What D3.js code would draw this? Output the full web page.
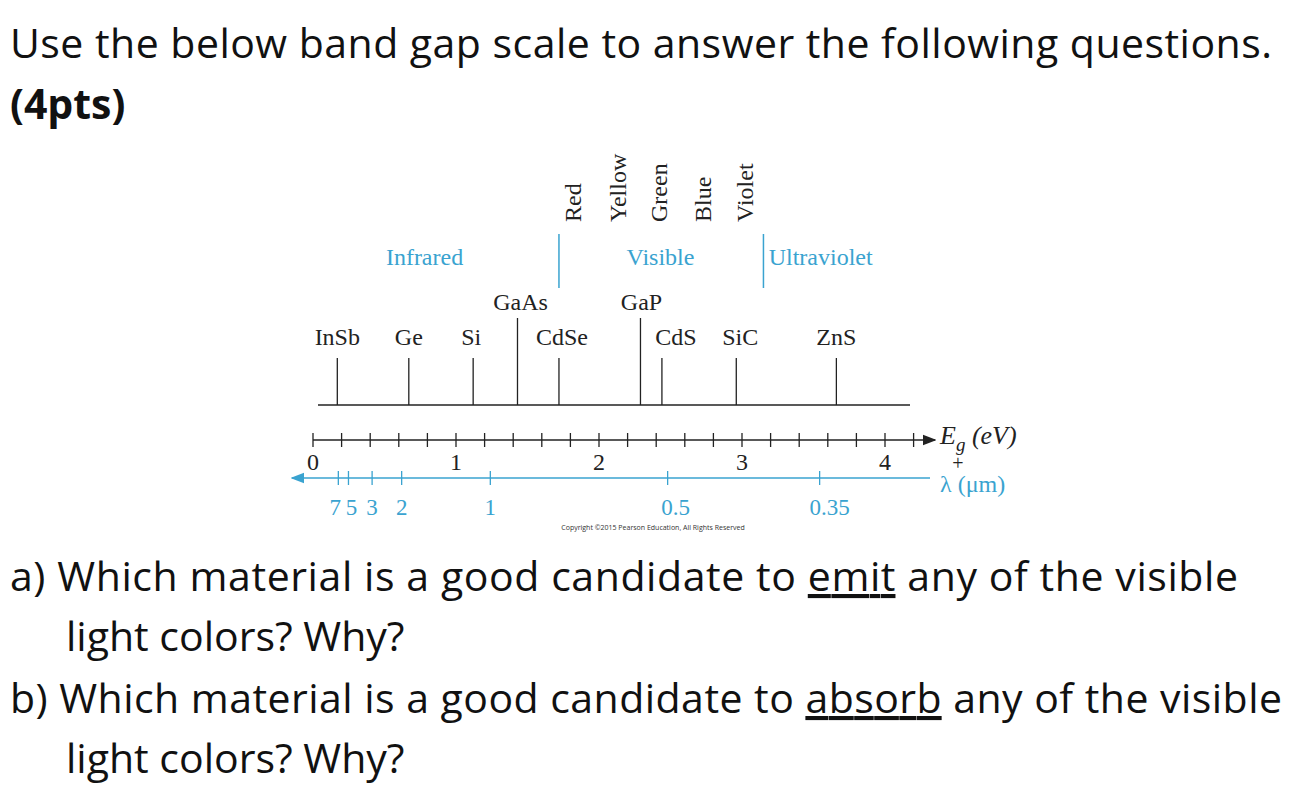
<!DOCTYPE html>
<html><head><meta charset="utf-8">
<script src="https://cdn.jsdelivr.net/npm/d3@7"></script>
<style>body{margin:0;background:#fff}</style>
</head><body><svg id="c" width="1306" height="806"></svg>
<script>
// ---- data ----
var materials = ["InSb","Ge","Si","GaAs","CdSe","GaP","CdS","SiC","ZnS"];
var gaps = [0.17,0.67,1.12,1.43,1.72,2.29,2.44,2.96,3.66];
var raised = ["GaAs","GaP"];
var colorNames = ["Red","Yellow","Green","Blue","Violet"];
var colorEv = [1.82,2.13,2.42,2.73,3.02];
var regionNames = ["Infrared","Visible","Ultraviolet"];
var regionEv = [0.78,2.43,3.55];
var visibleEdges = [1.72,3.15];
var eTicks = [0,1,2,3,4];
var lamTicks = [7,5,3,2,1,0.5,0.35];
var lamLabels = ["7","5","3","2","1","0.5","0.35"];

var svg = d3.select("#c");
var x = d3.scaleLinear().domain([0,4]).range([313,885]);
var blue = "#3aa3d0";
var serif = "Liberation Serif, serif";
var sans = "Open Sans, Lato, sans-serif";

// ---- text ----
function line(y, parts, bold, x0){
  var t = svg.append("text").attr("x",x0||10).attr("y",y).style("font-family",sans)
    .style("font-size","41px").style("font-weight",bold?"700":"400").attr("fill","#111");
  parts.forEach(p => {
    var s = t.append("tspan").text(p[0]);
    if(p[1]) s.style("text-decoration","underline");
  });
  return t;
}
line(58,[["Use the below band gap scale to answer the following questions."]]).attr("textLength",1262);
line(119,[["(4pts)"]],true);
line(591,[["a) Which material is a good candidate to "],["emit",1],[" any of the visible"]]).attr("textLength",1228);
line(651,[["light colors? Why?"]],false,66);
line(713,[["b) Which material is a good candidate to "],["absorb",1],[" any of the visible"]]).attr("textLength",1272);
line(773,[["light colors? Why?"]],false,66);

// ---- Eg axis ----
var ay = 440;
svg.append("defs").html(
  '<marker id="ab" viewBox="0 0 10 10" refX="9" refY="5" markerWidth="9" markerHeight="9" orient="auto"><path d="M0,1L10,5L0,9z" fill="#222"/></marker>'+
  '<marker id="al" viewBox="0 0 10 10" refX="9" refY="5" markerWidth="9" markerHeight="9" orient="auto"><path d="M0,1L10,5L0,9z" fill="'+blue+'"/></marker>');
svg.append("line").attr("x1",x(0)).attr("x2",x(4.35)).attr("y1",ay).attr("y2",ay)
  .attr("stroke","#222").attr("stroke-width",1.5).attr("marker-end","url(#ab)");
svg.selectAll(".et").data(d3.range(0,4.21,0.2)).enter().append("line")
  .attr("x1",d=>x(d)).attr("x2",d=>x(d)).attr("y1",ay-7).attr("y2",ay+7)
  .attr("stroke","#222").attr("stroke-width",1.3);
svg.selectAll(".el").data(eTicks).enter().append("text")
  .attr("x",d=>x(d)).attr("y",ay+30).attr("text-anchor","middle")
  .style("font-family",serif).style("font-size","24px").attr("fill","#222").text(d=>d);
var eg = svg.append("text").attr("x",940).attr("y",444).style("font-family",serif)
  .style("font-size","26px").style("font-style","italic").attr("fill","#222");
eg.append("tspan").text("E");
eg.append("tspan").attr("dy",7).style("font-size","19px").text("g");
eg.append("tspan").attr("dy",-7).text(" (eV)");
svg.append("text").attr("x",958).attr("y",470).attr("text-anchor","middle")
  .style("font-family",serif).style("font-size","20px").attr("fill","#222").text("+");

// ---- wavelength axis ----
var ly = 478;
var lx = d => x(1.24/d);
svg.append("line").attr("x1",930).attr("x2",292).attr("y1",ly).attr("y2",ly)
  .attr("stroke",blue).attr("stroke-width",1.5).attr("marker-end","url(#al)");
svg.selectAll(".lt").data(lamTicks).enter().append("line")
  .attr("x1",lx).attr("x2",lx).attr("y1",ly-7).attr("y2",ly+7).attr("stroke",blue).attr("stroke-width",1.3);
svg.selectAll(".ll").data(lamTicks).enter().append("text")
  .attr("x",d=>lx(d)+(d==7?-3:d==5?3:0)+(d==0.35?10:0)+(d==0.5?8:0)).attr("y",ly+37).attr("text-anchor","middle")
  .style("font-family",serif).style("font-size","23px").attr("fill",blue).text((d,i)=>lamLabels[i]);
svg.append("text").attr("x",940).attr("y",492).style("font-family",serif)
  .style("font-size","24px").attr("fill",blue).text("λ (μm)");
svg.append("text").attr("x",653).attr("y",530).attr("text-anchor","middle")
  .style("font-family",sans).style("font-size","7px").attr("fill","#333")
  .text("Copyright ©2015 Pearson Education, All Rights Reserved");

// ---- materials ----
var by = 405;
svg.append("line").attr("x1",318).attr("x2",910).attr("y1",by).attr("y2",by).attr("stroke","#222").attr("stroke-width",1.5);
var mg = svg.selectAll(".m").data(materials).enter().append("g");
mg.append("line").attr("x1",(d,i)=>x(gaps[i])).attr("x2",(d,i)=>x(gaps[i]))
  .attr("y1",d=>raised.includes(d)?318:358).attr("y2",by).attr("stroke","#222").attr("stroke-width",1.3);
mg.append("text").attr("x",(d,i)=>{
    if(d=="GaAs") return x(gaps[i])+3;
    if(d=="GaP") return x(gaps[i])+1;
    if(d=="CdSe") return x(gaps[i])+3;
    if(d=="CdS") return x(gaps[i])+14;
    if(d=="SiC") return x(gaps[i])+4;
    if(d=="Si") return x(gaps[i])-2;
    return x(gaps[i]);})
  .attr("y",d=>raised.includes(d)?310:345).attr("text-anchor","middle")
  .style("font-family",serif).style("font-size","24px").attr("fill","#222").text(d=>d);

// ---- spectrum ----
svg.selectAll(".ve").data(visibleEdges).enter().append("line")
  .attr("x1",d=>x(d)).attr("x2",d=>x(d)).attr("y1",234).attr("y2",288).attr("stroke",blue).attr("stroke-width",1.5);
svg.selectAll(".rn").data(regionNames).enter().append("text")
  .attr("x",(d,i)=>x(regionEv[i])).attr("y",265).attr("text-anchor","middle")
  .style("font-family",serif).style("font-size","24px").attr("fill",blue).text(d=>d);
svg.selectAll(".cn").data(colorNames).enter().append("text")
  .attr("transform",(d,i)=>"translate("+(x(colorEv[i])+8)+",222) rotate(-90)")
  .style("font-family",serif).style("font-size","24px").attr("fill","#222").text(d=>d);
</script></body></html>
